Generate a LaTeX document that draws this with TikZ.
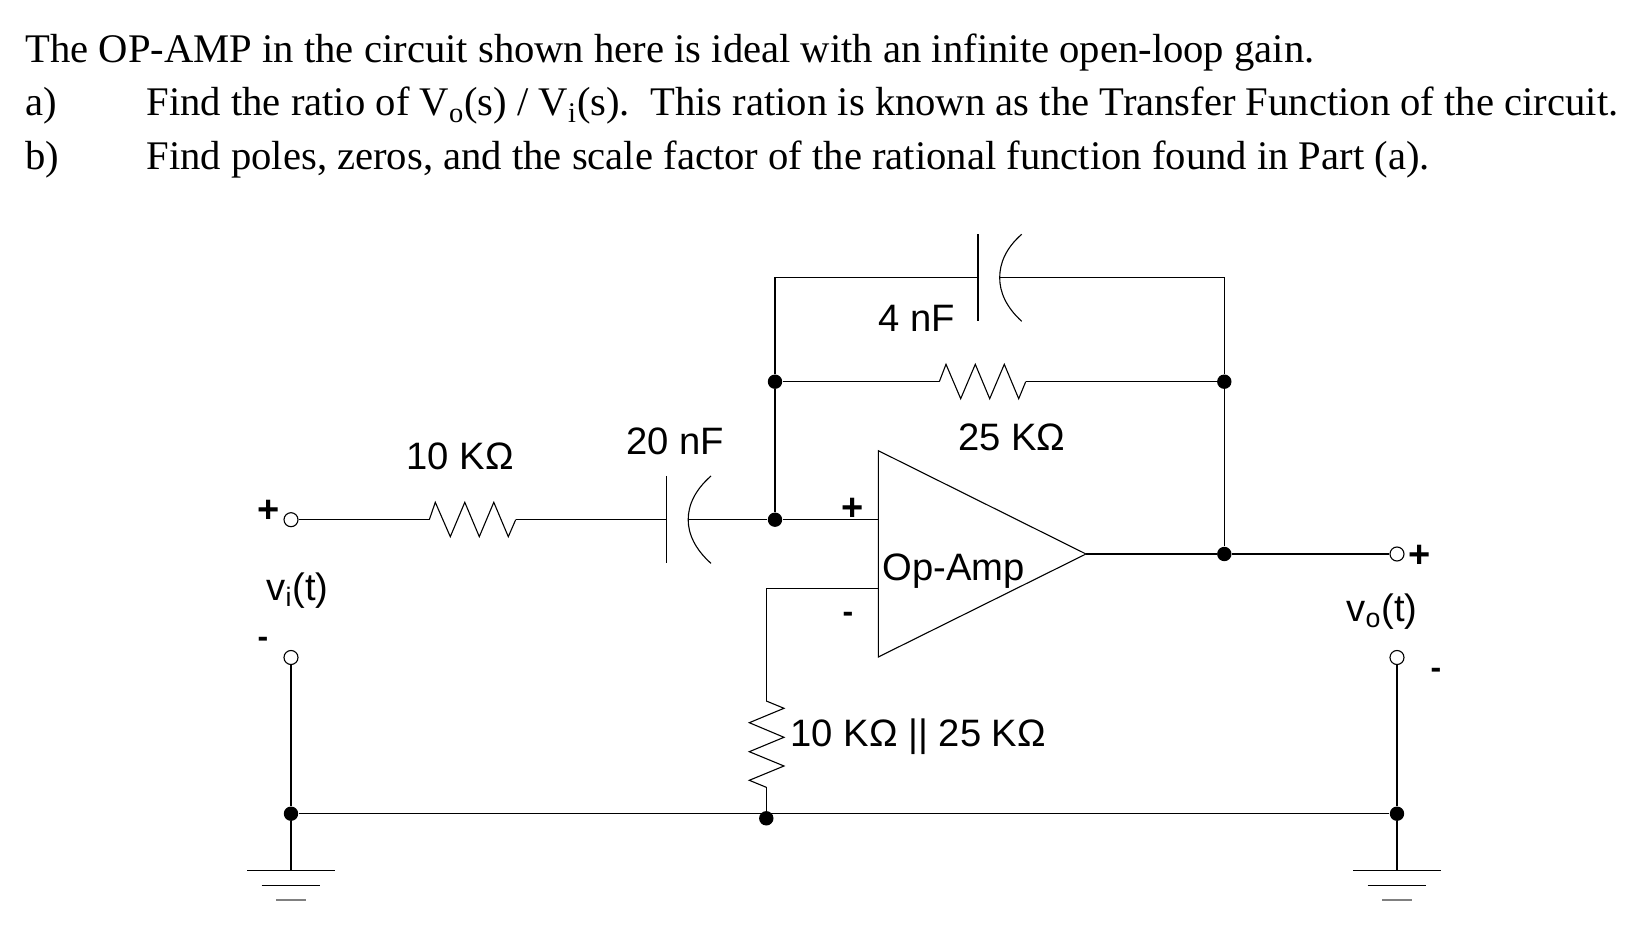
\documentclass[tikz,border=0pt]{standalone}
\usepackage{fontspec}
\setmainfont{Liberation Serif}
\newfontfamily\labelfont{Liberation Sans}
\usepackage{tikz}
\usetikzlibrary{positioning}

\begin{document}
\begin{tikzpicture}[x=0.5pt,y=-0.5pt,line width=0.55pt,
  junction/.style={circle,fill=black,inner sep=0pt,minimum size=7.2pt},
  terminal/.style={circle,draw,fill=white,inner sep=0pt,minimum size=7pt},
  question/.style={anchor=base west,inner sep=0pt,font=\fontsize{20.32}{20.32}\selectfont},
  value/.style={anchor=base west,inner sep=0pt,font=\labelfont\fontsize{19.1}{19.1}\selectfont},
  sign/.style={anchor=base,inner sep=0pt,font=\labelfont\bfseries\fontsize{16}{16}\selectfont},
  plussign/.style={anchor=base,inner sep=0pt,font=\labelfont\bfseries\fontsize{19}{19}\selectfont},
  lastrung/.style={gray,line width=0.9pt}]
\useasboundingbox (0,0) rectangle (1630,936);

% the question
\node[question] (line1) at (25,63)  {The OP-AMP in the circuit shown here is ideal with an infinite open-loop gain.};
\node[question] (a)     at (25,116) {a)};
\node[question] (line2) at (146,116) {Find the ratio of V\textsubscript{o}(s) / V\textsubscript{i}(s).\ \ This ration is known as the Transfer Function of the circuit.};
\node[question] (b)     at (25,170) {b)};
\node[question] (line3) at (146,170) {Find poles, zeros, and the scale factor of the rational function found in Part (a).};

% amplifier
\coordinate (amptop) at (878.3,450.7);
\coordinate (ampbot) at (878.3,657);
\coordinate (amptip) at (1086,554);
\draw (amptop) -- (amptip) -- (ampbot) -- cycle;

% nodes of the circuit
\node[terminal] (vip) at (291,519.7) {};
\node[terminal] (vim) at (291,657.5) {};
\node[terminal] (vop) at (1397,554) {};
\node[terminal] (vom) at (1397,657.5) {};
\node[junction] (inv)  at (775,519.7) {};
\node[junction] (fbl)  at (775,381.7) {};
\node[junction] (fbr)  at (1224.3,381.7) {};
\node[junction] (out)  at (1224.3,554) {};
\node[junction] (gndl) at (291,813.7) {};
\node[junction] (gndm) at (766.3,818.3) {};
\node[junction] (gndr) at (1397,813.7) {};

\coordinate (tl)  at (775,277.7);
\coordinate (tr)  at (1224.3,277.7);
\coordinate (ipl) at (878.3,519.7);
\coordinate (iml) at (878.3,588.7);
\coordinate (imc) at (766.3,588.7);
\coordinate (gndmw) at (766.3,813.7);

% resistors
\coordinate (r1a) at (429.3,519.7);
\coordinate (r1b) at (515.7,519.7);
\coordinate (r2a) at (939.3,381.7);
\coordinate (r2b) at (1025.7,381.7);
\coordinate (r3a) at (766.3,701);
\coordinate (r3b) at (766.3,787.3);
\draw (r1a) -- ++(6,-17.4) -- ++(15,34.4) -- ++(14.5,-34.4) -- ++(14.5,34.4) -- ++(14.5,-34.4) -- ++(14.5,34.4) -- (r1b);
\draw (r2a) -- ++(6.7,-17.4) -- ++(14.7,34.4) -- ++(14.6,-34.4) -- ++(14.4,34.4) -- ++(14.6,-34.4) -- ++(14.4,34.4) -- (r2b);
\draw (r3a) -- ++(17.7,7.3) -- ++(-34.7,14.4) -- ++(34.7,14.6) -- ++(-34.7,14.4) -- ++(34.7,14.3) -- ++(-34.7,14.3) -- (r3b);

% capacitors
\coordinate (c1a) at (666.8,519.7);
\coordinate (c1b) at (688.2,519.7);
\coordinate (c2a) at (978,277.7);
\coordinate (c2b) at (999.7,277.7);
\draw (c1a) ++(0,-43.7) -- ++(0,87.4);
\draw (c1b) ++(22.8,-43.7) .. controls (695,490) and (688.2,505) .. (c1b) .. controls (688.2,534) and (695,549) .. ++(22.8,43.7);
\draw (c2a) ++(0,-43.5) -- ++(0,87);
\draw (c2b) ++(22,-43.4) .. controls (1006,248) and (999.7,263) .. (c2b) .. controls (999.7,292) and (1006,307) .. ++(22,43.6);

% wires
\draw (vip) -- (r1a);
\draw (r1b) -- (c1a);
\draw (c1b) -- (inv) -- (ipl);
\draw (inv) -- (fbl) -- (tl) -- (c2a);
\draw (c2b) -- (tr) -- (fbr) -- (out);
\draw (fbl) -- (r2a);
\draw (r2b) -- (fbr);
\draw (amptip) -- (out) -- (vop);
\draw (iml) -- (imc) -- (r3a);
\draw (r3b) -- (gndm);
\draw (vim) -- (gndl);
\draw (vom) -- (gndr);
\draw (gndl) -- (gndmw) -- (gndr);

% grounds
\coordinate (earthl) at (291,870.7);
\coordinate (earthr) at (1397,870.7);
\draw (gndl) -- (earthl);
\draw (gndr) -- (earthr);
\draw (earthl) ++(-43.7,0) -- ++(87.4,0);
\draw (earthl) ++(-29.3,15) -- ++(58.6,0);
\draw[lastrung] (earthl) ++(-14.7,29) -- ++(29.4,0);
\draw (earthr) ++(-43.7,0) -- ++(87.4,0);
\draw (earthr) ++(-29.3,15) -- ++(58.6,0);
\draw[lastrung] (earthr) ++(-14.7,29) -- ++(29.4,0);

% values
\node[value] (r1val) at (406,469.3) {10 KΩ};
\node[value] (c1val) at (626,455) {20 nF};
\node[value] (c2val) at (878,331.7) {4 nF};
\node[value] (r2val) at (957.5,450.7) {25 KΩ};
\node[value] (r3val) at (790,746.7) {10 KΩ || 25 KΩ};
\node[value] (amplabel) at (882,581) {Op-Amp};
\node[value] (vilabel) at (266,600) {v\textsubscript{i}(t)};
\node[value] (volabel) at (1346,621.7) {v\textsubscript{o}(t)};

% signs
\node[plussign] (vipsign) at (268.5,523) {+};
\node[sign] (vimsign) at (263,647) {-};
\node[plussign] (vopsign) at (1420,567.5) {+};
\node[sign] (vomsign) at (1436,678) {-};
\node[plussign] (ippsign) at (852.5,520.7) {+};
\node[sign] (imsign)  at (848,623) {-};
\end{tikzpicture}
\end{document}
